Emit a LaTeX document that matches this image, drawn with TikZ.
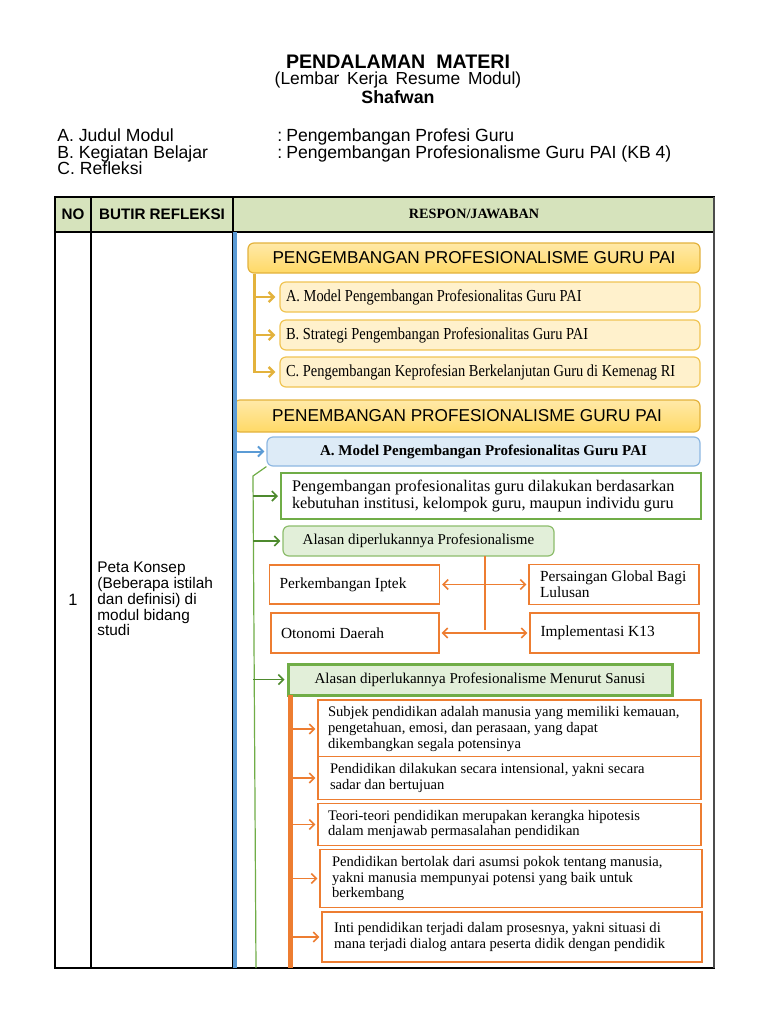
\documentclass[tikz,border=0pt]{standalone}
\usepackage{fontspec}
\setmainfont{Liberation Sans}
\newfontfamily\boxserif{Liberation Serif}
\newfontfamily\narrowserif[FakeStretch=0.86]{Liberation Serif}
\usetikzlibrary{arrows.meta,positioning,calc}
\definecolor{hdrgreen}{HTML}{D6E3BC}
\definecolor{golden}{HTML}{E3B23C}
\definecolor{goldtop}{HTML}{FFE9A8}
\definecolor{goldbot}{HTML}{FFD966}
\definecolor{goldlight}{HTML}{FFF1CC}
\definecolor{goldedge}{HTML}{F0C453}
\definecolor{bluebar}{HTML}{5B9BD5}
\definecolor{bluefill}{HTML}{DDEBF7}
\definecolor{blueedge}{HTML}{8EB8E2}
\definecolor{leaf}{HTML}{70AD47}
\definecolor{leafdark}{HTML}{4E8A2E}
\definecolor{leaffill}{HTML}{E2EFD9}
\definecolor{tangerine}{HTML}{ED7D31}

\begin{document}
\begin{tikzpicture}[x=0.5pt, y=-0.5pt,
  font=\fontsize{8.8}{10}\selectfont,
  grid/.style={line width=0.6pt, draw=black},
  hdr/.style={font=\fontsize{7.6}{9}\selectfont\bfseries},
  yhead/.style={draw=golden, top color=goldtop, bottom color=goldbot, rounded corners=3pt,
    line width=0.6pt, inner sep=0pt, font=\fontsize{8.6}{10}\selectfont},
  ysub/.style={draw=goldedge, fill=goldlight, rounded corners=3pt, line width=0.6pt,
    minimum width=210pt, minimum height=15pt, text width=204pt, inner xsep=3pt, align=flush left,
    font=\fontsize{8.4}{9}\selectfont\narrowserif},
  bluebox/.style={draw=blueedge, fill=bluefill, rounded corners=3pt, line width=0.6pt,
    inner sep=0pt, font=\fontsize{7.5}{9}\selectfont\boxserif\bfseries},
  greenbox/.style={draw=leaf, line width=1pt, fill=white, inner xsep=5.5pt, align=flush left,
    font=\fontsize{8.1}{8.7}\selectfont\boxserif},
  softgreen/.style={draw=leaf!80, fill=leaffill, rounded corners=3pt, line width=0.6pt,
    inner sep=0pt, font=\fontsize{7.5}{9}\selectfont\boxserif},
  sanusibox/.style={draw=leaf, fill=leaffill, line width=1.5pt, inner sep=0pt,
    font=\fontsize{7.5}{9}\selectfont\boxserif},
  obox/.style={draw=tangerine, fill=white, line width=0.6pt, inner xsep=5pt, align=flush left,
    font=\fontsize{7.3}{7.9}\selectfont\boxserif},
  goldline/.style={draw=golden, line width=1.2pt},
  goldarr/.style={goldline, -{Straight Barb[length=2.5pt, width=5pt]}, shorten >=2pt},
  bluearr/.style={draw=bluebar, line width=1pt, -{Straight Barb[length=2.5pt, width=5pt]}, shorten >=1pt},
  leafline/.style={draw=leaf, line width=0.6pt},
  leafarr/.style={draw=leafdark, line width=0.8pt, -{Straight Barb[length=2.5pt, width=5pt]}, shorten >=1pt},
  tanline/.style={draw=tangerine, line width=0.8pt},
  tanarr/.style={tanline, -{Straight Barb[length=2.5pt, width=5pt]}, shorten >=1pt},
  tanboth/.style={tanline, {Straight Barb[length=2.5pt, width=5pt]}-{Straight Barb[length=2.5pt, width=5pt]}, shorten >=1pt, shorten <=1pt},
]
\useasboundingbox[fill=white] (0,0) rectangle (768,1024);

% judul
\node[inner sep=0pt, font=\fontsize{9.8}{11}\selectfont\bfseries] (judul) at (398,62) {PENDALAMAN\ \ MATERI};
\node[inner sep=0pt, font=\fontsize{8.7}{10}\selectfont] (lembar) at (398,80) {(Lembar\ \,Kerja\ \,Resume\ \,Modul)};
\node[inner sep=0pt, font=\fontsize{8.9}{10}\selectfont\bfseries] (nama) at (398,97) {Shafwan};
\node[anchor=base west, inner sep=0pt] (ka) at (57,141) {A. Judul Modul};
\node[anchor=base west, inner sep=0pt] (kb) at (57,158) {B. Kegiatan Belajar};
\node[anchor=base west, inner sep=0pt] (kc) at (57,174) {C. Refleksi};
\node[anchor=base west, inner sep=0pt] (va) at (277,141) {:\hspace{2pt}Pengembangan Profesi Guru};
\node[anchor=base west, inner sep=0pt] (vb) at (277,158) {:\hspace{2pt}Pengembangan Profesionalisme Guru PAI (KB 4)};

% tabel
\fill[hdrgreen] (55,197) rectangle (714,232);
\draw[grid] (55,197) rectangle (714,968);
\draw[grid] (55,232) -- (714,232);
\draw[grid] (91,197) -- (91,968);
\draw[grid] (233,197) -- (233,968);
\draw[line width=1.1pt, draw=black!70] (714,197) -- (714,968);
\node[hdr] (hno) at (73,214) {NO};
\node[hdr] (hbutir) at (162,214) {BUTIR REFLEKSI};
\node[font=\fontsize{7.1}{9}\selectfont\boxserif\bfseries] (hrespon) at (474,214) {RESPON/JAWABAN};
\node[font=\fontsize{8.2}{9}\selectfont] (no1) at (73,600) {1};
\node[anchor=west, inner sep=0pt, align=left, font=\fontsize{7.7}{7.9}\selectfont] (butir1) at (97,599)
  {Peta Konsep\\(Beberapa istilah\\dan definisi) di\\modul bidang\\studi};

% peta konsep
\node[yhead, minimum width=226pt, minimum height=15pt] (pgtitle) at (474,258) {PENGEMBANGAN PROFESIONALISME GURU PAI};
\node[ysub] (pga) at (490,297) {A. Model Pengembangan Profesionalitas Guru PAI};
\node[ysub] (pgb) at (490,335) {B. Strategi Pengembangan Profesionalitas Guru PAI};
\node[ysub] (pgc) at (490,372) {C. Pengembangan Keprofesian Berkelanjutan Guru di Kemenag RI};
\coordinate (ytrunk) at ($(pgtitle.south west)+(7,0)$);
\draw[goldarr] (ytrunk) |- (pgc);
\draw[goldarr] (ytrunk |- pga) -- (pga);
\draw[goldarr] (ytrunk |- pgb) -- (pgb);

\node[yhead, minimum width=233pt, minimum height=16pt] (pntitle) at (467,416) {PENEMBANGAN PROFESIONALISME GURU PAI};

\coordinate (btop) at (235,232);
\coordinate (bend) at (235,968);
\draw[draw=bluebar, line width=1.6pt] (btop) -- (bend);
\node[bluebox, minimum width=216.5pt, minimum height=14.5pt] (bluemod) at (483.5,451.5) {A. Model Pengembangan Profesionalitas Guru PAI};
\draw[bluearr] (btop |- bluemod) ++(2,0) -- (bluemod);

\coordinate (gtrunk) at (253,476);
\coordinate (gend) at (256,968);
\draw[leafline] (bluemod.south west) -- (gtrunk) -- (gend);
\node[greenbox, minimum width=210pt, minimum height=22pt, text width=199pt] (gdef) at (491,496)
  {Pengembangan profesionalitas guru dilakukan berdasarkan\\kebutuhan institusi, kelompok guru, maupun individu guru};
\node[softgreen, minimum width=135.5pt, minimum height=15pt] (galasan) at (418.5,541) {Alasan diperlukannya Profesionalisme};
\draw[leafarr] (gtrunk |- gdef) -- (gdef);
\draw[leafarr] (gtrunk |- galasan) -- (galasan);

\node[obox, minimum width=84.5pt, minimum height=19.5pt, text width=75pt, font=\fontsize{7.7}{7.9}\selectfont\boxserif] (iptek) at (354.5,584.5) {Perkembangan Iptek};
\node[obox, minimum width=85pt, minimum height=19.5pt, text width=74pt, inner xsep=5.5pt, font=\fontsize{7.7}{7.9}\selectfont\boxserif] (global) at (614,584.5) {Persaingan Global Bagi\\Lulusan};
\node[obox, minimum width=84pt, minimum height=20pt, text width=74pt, font=\fontsize{7.7}{7.9}\selectfont\boxserif] (otonomi) at (355,633) {Otonomi Daerah};
\node[obox, minimum width=84.5pt, minimum height=20pt, text width=74pt, font=\fontsize{7.7}{7.9}\selectfont\boxserif] (k13) at (614.5,633) {Implementasi K13};
\coordinate (obtop) at (485,556);
\coordinate (obbot) at (485,630);
\draw[tanline] (obtop) -- (obbot);
\draw[tanboth] (iptek) -- (global);
\draw[tanboth] (otonomi) -- (k13);

\node[sanusibox, minimum width=192pt, minimum height=15.5pt] (sanusi) at (480,679.5) {Alasan diperlukannya Profesionalisme Menurut Sanusi};
\draw[leafarr] (gtrunk |- sanusi) -- (sanusi);

\coordinate (otop) at (290,695);
\coordinate (obot) at (290,968);
\draw[draw=tangerine, line width=2.5pt] (otop) -- (obot);
\node[obox, minimum width=191.5pt, minimum height=29pt, text width=181.5pt] (o1) at (509.5,729)
  {Subjek pendidikan adalah manusia yang memiliki kemauan,\\pengetahuan, emosi, dan perasaan, yang dapat\\dikembangkan segala potensinya};
\node[obox, minimum width=191.5pt, minimum height=20pt, text width=179.5pt, inner xsep=6pt] (o2) at (509.5,778)
  {Pendidikan dilakukan secara intensional, yakni secara\\sadar dan bertujuan};
\node[obox, minimum width=191.5pt, minimum height=20.5pt, text width=181.5pt] (o3) at (509.5,824.5)
  {Teori-teori pendidikan merupakan kerangka hipotesis\\dalam menjawab permasalahan pendidikan};
\node[obox, minimum width=191pt, minimum height=28.5pt, text width=179pt, inner xsep=6pt] (o4) at (511,878.5)
  {Pendidikan bertolak dari asumsi pokok tentang manusia,\\yakni manusia mempunyai potensi yang baik untuk\\berkembang};
\node[obox, minimum width=190pt, minimum height=25pt, text width=178pt, inner xsep=6pt] (o5) at (512,937)
  {Inti pendidikan terjadi dalam prosesnya, yakni situasi di\\mana terjadi dialog antara peserta didik dengan pendidik};
\foreach \b in {o1,o2,o3,o4,o5}
  \draw[tanarr] (otop |- \b) ++(2,0) -- (\b);
\end{tikzpicture}
\end{document}
